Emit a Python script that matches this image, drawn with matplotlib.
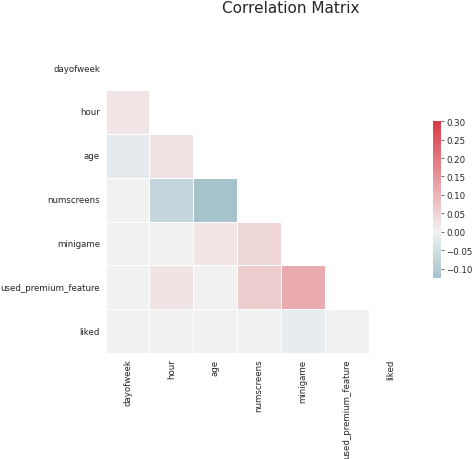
import numpy as np
import pandas as pd
import seaborn as sns
import matplotlib
matplotlib.use("Agg")
import matplotlib.pyplot as plt

labels = ["dayofweek", "hour", "age", "numscreens", "minigame",
          "used_premium_feature", "liked"]

# lower triangle of the correlation matrix, row by row
row_hour = [0.02]
row_age = [-0.02, 0.025]
row_numscreens = [0.0, -0.075, -0.125]
row_minigame = [0.0, 0.0, 0.02, 0.045]
row_premium = [0.0, 0.025, 0.0, 0.06, 0.115]
row_liked = [0.0, 0.0, 0.0, 0.0, -0.015, 0.0]

lower = [[], row_hour, row_age, row_numscreens, row_minigame, row_premium, row_liked]

n = len(labels)
corr = np.eye(n)
for i, row in enumerate(lower):
    for j, v in enumerate(row):
        corr[i, j] = v
        corr[j, i] = v
corr = pd.DataFrame(corr, index=labels, columns=labels)

sns.set(style="white")

mask = np.zeros_like(corr, dtype=bool)
mask[np.triu_indices_from(mask)] = True

fig = plt.figure(figsize=(4.74, 4.60), dpi=100)
ax = fig.add_axes([0.2215, 0.2304, 0.65, 0.667])
cax = fig.add_axes([0.9135, 0.3935, 0.017, 0.341])

cmap = sns.diverging_palette(220, 10, as_cmap=True)
sns.heatmap(corr, mask=mask, cmap=cmap, vmax=.3, center=0, square=True,
            linewidths=.5, ax=ax, cbar_ax=cax)

ax.tick_params(axis="both", labelsize=6.2, length=0, pad=4)
plt.setp(ax.get_yticklabels(), rotation=0)
plt.setp(ax.get_xticklabels(), rotation=90)
cax.tick_params(labelsize=6.2, right=True, length=2.5, width=0.6, pad=1,
                color="#555555")
cax.set_yticks([-0.10, -0.05, 0.0, 0.05, 0.10, 0.15, 0.20, 0.25, 0.30])
cax.set_yticklabels([f"{t:.2f}".replace("-", "\u2212") for t in cax.get_yticks()])

fig.text(0.614, 0.998, "Correlation Matrix", ha="center", va="top", fontsize=11)

fig.savefig("out.png", dpi=100)
